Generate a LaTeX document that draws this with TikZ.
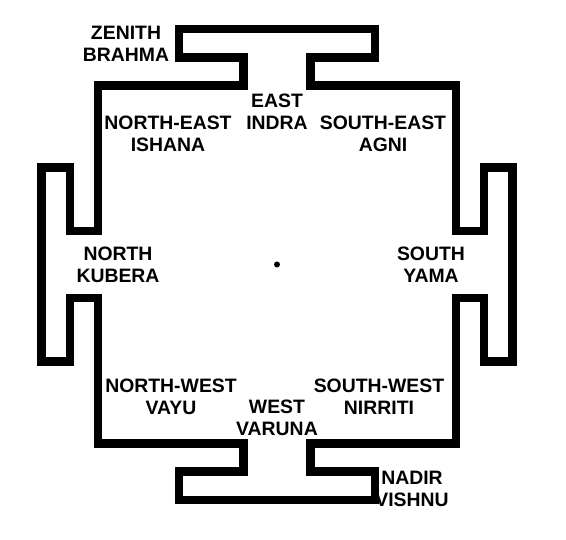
\documentclass[tikz,border=0pt]{standalone}
\usepackage{fontspec}
\setmainfont{Liberation Sans}
\usepackage{tikz}
\tikzset{
	outline/.style={
		% The border:
		draw=black,line width=8.5pt,
		% sharp corners
		miter limit=10,
	}}
\tikzset{
		deity/.style={
			% The text:
			font=\bfseries\fontsize{19.4}{21.8}\selectfont,
			align=center,
			% no padding, so the node sits on its text
			inner sep=0pt,
		}}

\begin{document}
\begin{tikzpicture}[x=1pt,y=-1pt]
				\useasboundingbox (0,0) rectangle (566,540);
				% the yantra outline, centred on the dot
				\begin{scope}[shift={(277,264.5)}]
				\draw[outline] (-179,-179) -- (-33.5,-179) -- (-33.5,-207) -- (-98,-207) -- (-98,-235.5)
					-- (98,-235.5) -- (98,-207) -- (33.5,-207) -- (33.5,-179)
					-- (179,-179) -- (179,-33.5) -- (207,-33.5) -- (207,-97) -- (235.5,-97)
					-- (235.5,97) -- (207,97) -- (207,33.5) -- (179,33.5)
					-- (179,179) -- (33.5,179) -- (33.5,207) -- (98,207) -- (98,235.5)
					-- (-98,235.5) -- (-98,207) -- (-33.5,207) -- (-33.5,179)
					-- (-179,179) -- (-179,33.5) -- (-207,33.5) -- (-207,97) -- (-235.5,97)
					-- (-235.5,-97) -- (-207,-97) -- (-207,-33.5) -- (-179,-33.5) -- cycle;
				\fill (0,0) circle (3pt);
				\end{scope}
				% the guardians
				\node[deity] (zenith) at (126,44) {ZENITH\\BRAHMA};
				\node[deity] (east) at (277,112) {EAST\\INDRA};
				\node[deity] (northeast) at (168,134) {NORTH-EAST\\ISHANA};
				\node[deity] (southeast) at (383,134) {SOUTH-EAST\\AGNI};
				\node[deity] (north) at (118,265) {NORTH\\KUBERA};
				\node[deity] (south) at (431,265) {SOUTH\\YAMA};
				\node[deity] (northwest) at (171,396.5) {NORTH-WEST\\VAYU};
				\node[deity] (west) at (277,418) {WEST\\VARUNA};
				\node[deity] (southwest) at (379,396.5) {SOUTH-WEST\\NIRRITI};
				\node[deity] (nadir) at (412,489) {NADIR\\VISHNU};
				\end{tikzpicture}
\end{document}
